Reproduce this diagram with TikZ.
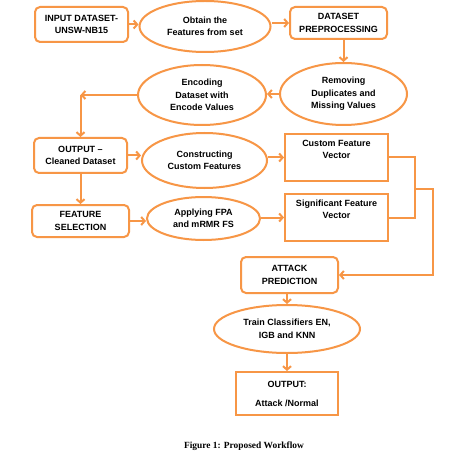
\documentclass[tikz,border=0pt]{standalone}
\usepackage{fontspec}
\usetikzlibrary{shapes.geometric,arrows.meta}
\newfontfamily\nf{Liberation Sans}
\newfontfamily\cf{Liberation Serif}
\definecolor{orng}{RGB}{247,150,70}
\tikzset{
  base/.style={draw=orng, line width=2pt, align=center, inner sep=0pt,
    font=\nf\bfseries\fontsize{9}{12.5}\selectfont},
  rbox/.style={base, rounded corners=5pt},
  sbox/.style={base},
  ell/.style={base, ellipse},
  conn/.style={draw=orng, line width=2pt, -{Straight Barb[length=3.5pt,width=8pt]}},
  plain/.style={draw=orng, line width=2pt},
}
\begin{document}
\begin{tikzpicture}[x=1pt,y=-1pt]
\useasboundingbox (0,0) rectangle (461,470);
\fill[white] (0,0) rectangle (461,470);
\node[rbox, minimum width=93pt, minimum height=35pt] (in) at (81.5,24.5) {INPUT DATASET-\\UNSW-NB15};
\node[ell, minimum width=131pt, minimum height=51pt] (obt) at (205,26.5) {Obtain the\\Features from set};
\node[rbox, minimum width=97pt, minimum height=32pt] (pre) at (338.5,23) {DATASET\\PREPROCESSING};
\node[ell, minimum width=127pt, minimum height=62pt] (rem) at (343.5,94) {Removing\\Duplicates and\\Missing Values};
\node[ell, minimum width=128pt, minimum height=60pt] (enc) at (202,95) {Encoding\\Dataset with\\Encode Values};
\node[rbox, minimum width=93pt, minimum height=35pt] (out1) at (80.5,155.5) {OUTPUT –\\Cleaned Dataset};
\coordinate (cr) at (enc.west -| out1.north);
\node[ell, minimum width=125pt, minimum height=55pt] (con) at (204.5,160.5) {Constructing\\Custom Features};
\node[sbox, minimum width=103pt, minimum height=47pt] (cfv) at (336.5,157.5) {Custom Feature\\Vector\\[4pt]};
\node[rbox, minimum width=97pt, minimum height=32pt] (fs) at (80.5,221) {FEATURE\\SELECTION};
\node[ell, minimum width=113pt, minimum height=43pt] (fpa) at (203.5,218.5) {Applying FPA\\and mRMR FS};
\node[sbox, minimum width=103pt, minimum height=47pt] (sfv) at (336.5,217.5) {Significant Feature\\Vector\\[4pt]};
\node[rbox, minimum width=97pt, minimum height=36pt] (atk) at (289.5,275) {ATTACK\\PREDICTION};
\node[ell, minimum width=146pt, minimum height=48pt] (trn) at (287,329) {Train Classifiers EN,\\IGB and KNN};
\node[sbox, minimum width=102pt, minimum height=43pt, font=\nf\bfseries\fontsize{9}{19}\selectfont] (out2) at (287,393.5) {OUTPUT:\\Attack /Normal};
\node[font=\cf\bfseries\fontsize{9.4}{11}\selectfont, inner sep=0pt] (cap) at (244,446) {Figure 1: Proposed Workflow};
\coordinate (jm) at (415,189);
\coordinate (jr) at (433,189);

\draw[conn] (in.east) -- (in.east -| obt.west);
\draw[conn] (obt.east |- pre.west) -- (pre.west);
\draw[conn] (pre.south -| rem.north) -- (rem.north);
\draw[conn] (rem.west) -- (rem.west -| enc.east);
\draw[conn] (enc.west) -- (cr);
\draw[conn] (cr) -- (out1.north);
\draw[conn] (out1.east) -- (out1.east -| con.west);
\draw[conn] (con.east |- cfv.west) -- (cfv.west);
\draw[conn] (out1.south) -- (fs.north);
\draw[conn] (fs.east) -- (fs.east -| fpa.west);
\draw[conn] (fpa.east |- sfv.west) -- (sfv.west);
\draw[plain] (cfv.east) -- (cfv.east -| jm) -- (sfv.east -| jm) -- (sfv.east);
\draw[conn] (jm) -- (jr) |- (atk.east);
\draw[conn] (atk.south -| trn.north) -- (trn.north);
\draw[conn] (trn.south) -- (out2.north);
\end{tikzpicture}
\end{document}
